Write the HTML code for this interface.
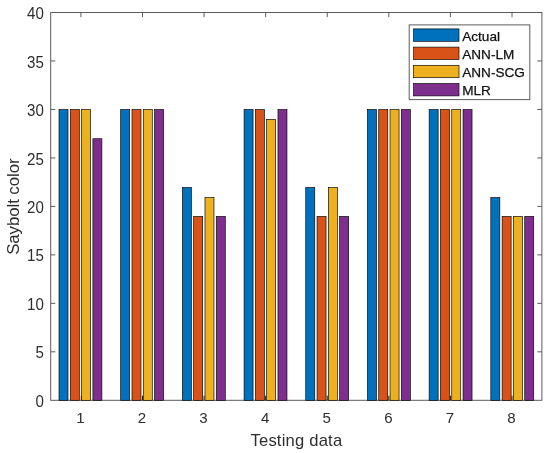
<!DOCTYPE html>
<html><head><meta charset="utf-8"><title>Saybolt color</title>
<style>html,body{margin:0;padding:0;background:#fff;}svg{display:block;}text{font-family:"Liberation Sans",sans-serif;fill:#2e2e2e;}</style>
</head><body>
<svg width="550" height="453" viewBox="0 0 550 453">
<rect x="0" y="0" width="550" height="453" fill="#ffffff"/>
<rect x="50.70" y="12.50" width="491.20" height="387.80" fill="none" stroke="#5c5c5c" stroke-width="1"/>
<g stroke="#000" stroke-width="0.65">
<rect x="59.00" y="109.55" width="9.00" height="290.75" fill="#0072BD"/>
<rect x="70.30" y="109.55" width="9.00" height="290.75" fill="#D95319"/>
<rect x="81.60" y="109.55" width="9.00" height="290.75" fill="#EDB120"/>
<rect x="92.90" y="138.74" width="9.00" height="261.56" fill="#7E2F8E"/>
<rect x="120.69" y="109.55" width="9.00" height="290.75" fill="#0072BD"/>
<rect x="131.99" y="109.55" width="9.00" height="290.75" fill="#D95319"/>
<rect x="143.29" y="109.55" width="9.00" height="290.75" fill="#EDB120"/>
<rect x="154.59" y="109.55" width="9.00" height="290.75" fill="#7E2F8E"/>
<rect x="182.38" y="187.51" width="9.00" height="212.79" fill="#0072BD"/>
<rect x="193.68" y="216.40" width="9.00" height="183.91" fill="#D95319"/>
<rect x="204.98" y="197.61" width="9.00" height="202.69" fill="#EDB120"/>
<rect x="216.28" y="216.40" width="9.00" height="183.91" fill="#7E2F8E"/>
<rect x="244.07" y="109.55" width="9.00" height="290.75" fill="#0072BD"/>
<rect x="255.37" y="109.55" width="9.00" height="290.75" fill="#D95319"/>
<rect x="266.67" y="119.34" width="9.00" height="280.96" fill="#EDB120"/>
<rect x="277.97" y="109.55" width="9.00" height="290.75" fill="#7E2F8E"/>
<rect x="305.76" y="187.51" width="9.00" height="212.79" fill="#0072BD"/>
<rect x="317.06" y="216.40" width="9.00" height="183.91" fill="#D95319"/>
<rect x="328.36" y="187.51" width="9.00" height="212.79" fill="#EDB120"/>
<rect x="339.66" y="216.40" width="9.00" height="183.91" fill="#7E2F8E"/>
<rect x="367.45" y="109.55" width="9.00" height="290.75" fill="#0072BD"/>
<rect x="378.75" y="109.55" width="9.00" height="290.75" fill="#D95319"/>
<rect x="390.05" y="109.55" width="9.00" height="290.75" fill="#EDB120"/>
<rect x="401.35" y="109.55" width="9.00" height="290.75" fill="#7E2F8E"/>
<rect x="429.14" y="109.55" width="9.00" height="290.75" fill="#0072BD"/>
<rect x="440.44" y="109.55" width="9.00" height="290.75" fill="#D95319"/>
<rect x="451.74" y="109.55" width="9.00" height="290.75" fill="#EDB120"/>
<rect x="463.04" y="109.55" width="9.00" height="290.75" fill="#7E2F8E"/>
<rect x="490.83" y="197.61" width="9.00" height="202.69" fill="#0072BD"/>
<rect x="502.13" y="216.40" width="9.00" height="183.91" fill="#D95319"/>
<rect x="513.43" y="216.40" width="9.00" height="183.91" fill="#EDB120"/>
<rect x="524.73" y="216.40" width="9.00" height="183.91" fill="#7E2F8E"/>
</g>
<g stroke="#5c5c5c" stroke-width="1" fill="none">
<path d="M81.30 400.30v-4.60" stroke="#1c1c1c"/>
<path d="M80.90 12.50v4.60"/>
<path d="M142.49 400.30v-4.60" stroke="#1c1c1c"/>
<path d="M142.49 12.50v4.60"/>
<path d="M204.07 400.30v-4.60" stroke="#1c1c1c"/>
<path d="M204.07 12.50v4.60"/>
<path d="M265.65 400.30v-4.60" stroke="#1c1c1c"/>
<path d="M265.65 12.50v4.60"/>
<path d="M327.24 400.30v-4.60" stroke="#1c1c1c"/>
<path d="M327.24 12.50v4.60"/>
<path d="M388.83 400.30v-4.60" stroke="#1c1c1c"/>
<path d="M388.83 12.50v4.60"/>
<path d="M450.41 400.30v-4.60" stroke="#1c1c1c"/>
<path d="M450.41 12.50v4.60"/>
<path d="M512.00 400.30v-4.60" stroke="#1c1c1c"/>
<path d="M512.00 12.50v4.60"/>
<path d="M50.70 351.82h4.60 M541.90 351.82h-4.60"/>
<path d="M50.70 303.35h4.60 M541.90 303.35h-4.60"/>
<path d="M50.70 254.88h4.60 M541.90 254.88h-4.60"/>
<path d="M50.70 206.40h4.60 M541.90 206.40h-4.60"/>
<path d="M50.70 157.93h4.60 M541.90 157.93h-4.60"/>
<path d="M50.70 109.45h4.60 M541.90 109.45h-4.60"/>
<path d="M50.70 60.98h4.60 M541.90 60.98h-4.60"/>
</g>
<g font-size="15.1" text-anchor="end">
<text transform="translate(43.8 406.90) scale(1 1.04)">0</text>
<text transform="translate(43.8 358.43) scale(1 1.04)">5</text>
<text transform="translate(43.8 309.95) scale(1 1.04)">10</text>
<text transform="translate(43.8 261.48) scale(1 1.04)">15</text>
<text transform="translate(43.8 213.00) scale(1 1.04)">20</text>
<text transform="translate(43.8 164.53) scale(1 1.04)">25</text>
<text transform="translate(43.8 116.05) scale(1 1.04)">30</text>
<text transform="translate(43.8 67.58) scale(1 1.04)">35</text>
<text transform="translate(43.8 19.10) scale(1 1.04)">40</text>
</g>
<g font-size="15.1" text-anchor="middle">
<text transform="translate(80.40 422.9) scale(1 1.03)">1</text>
<text transform="translate(141.99 422.9) scale(1 1.03)">2</text>
<text transform="translate(203.57 422.9) scale(1 1.03)">3</text>
<text transform="translate(265.15 422.9) scale(1 1.03)">4</text>
<text transform="translate(326.74 422.9) scale(1 1.03)">5</text>
<text transform="translate(388.33 422.9) scale(1 1.03)">6</text>
<text transform="translate(449.91 422.9) scale(1 1.03)">7</text>
<text transform="translate(511.50 422.9) scale(1 1.03)">8</text>
</g>
<text x="296.4" y="445.5" font-size="16.6" letter-spacing="0.2" text-anchor="middle">Testing data</text>
<text transform="translate(19.4 206.7) rotate(-90)" font-size="16.9" letter-spacing="-0.1" text-anchor="middle">Saybolt color</text>
<rect x="409.2" y="24.9" width="120.6" height="74.7" fill="#fff" stroke="#5c5c5c" stroke-width="1"/>
<g stroke="#000" stroke-width="0.65">
<rect x="413.6" y="28.90" width="45.4" height="12.4" fill="#0072BD"/>
<rect x="413.6" y="47.10" width="45.4" height="12.4" fill="#D95319"/>
<rect x="413.6" y="65.30" width="45.4" height="12.4" fill="#EDB120"/>
<rect x="413.6" y="83.50" width="45.4" height="12.4" fill="#7E2F8E"/>
</g>
<g font-size="13.6" fill="#111" stroke="#111" stroke-width="0.25" style="fill:#111">
<text x="462.2" y="40.60" style="fill:#111">Actual</text>
<text x="462.2" y="58.80" style="fill:#111">ANN-LM</text>
<text x="462.2" y="77.00" style="fill:#111">ANN-SCG</text>
<text x="462.2" y="95.20" style="fill:#111">MLR</text>
</g>
</svg></body></html>
